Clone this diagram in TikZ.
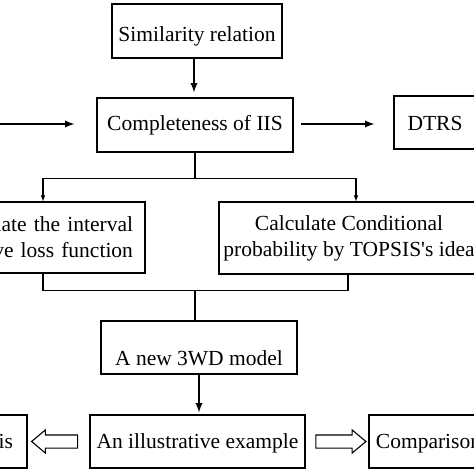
\documentclass[tikz,border=0pt]{standalone}
\usepackage{fontspec}
\setmainfont{Liberation Serif}
\usetikzlibrary{shapes.arrows, arrows, positioning}

\tikzstyle{block} = [rectangle, draw=black, line width=1.2pt, inner sep=0pt, minimum height=54pt, text centered, font=\fontsize{21.5}{25.8}\selectfont]
\tikzstyle{oneline} = [block, text height=14.7pt, text depth=4.7pt]
\tikzstyle{arrow} = [line width=2.2pt, ->, >=latex]
\tikzstyle{thinarrow} = [line width=1.1pt, ->, >=latex]
\tikzstyle{line} = [line width=1.1pt]
\tikzstyle{hollow} = [single arrow, draw=black, line width=1.1pt, fill=white, inner sep=6pt, single arrow head extend=5pt, single arrow tip angle=80]

\begin{document}
\begin{tikzpicture}[x=1pt, y=-1pt]
	\useasboundingbox (0,0) rectangle (474,474);

	\node (sim) [oneline, minimum width=170pt, text height=26pt] at (197,31) {Similarity relation};
	\node (comp) [oneline, minimum width=196pt, below of=sim, node distance=94pt, xshift=-2pt] {Completeness of IIS};
	\node (dtrs) [oneline, minimum width=82pt, minimum height=53pt, text height=21pt, right of=comp, node distance=240pt, yshift=2.5pt] {DTRS};
	\node (calc-loss) [block, minimum height=71pt, align=right, text width=252pt, inner xsep=12pt, below of=comp, node distance=112.5pt, xshift=-188pt] {late the interval\\ve loss function};
	\node (calc-prob) [block, minimum width=260pt, minimum height=72pt, align=center, below of=comp, node distance=113pt, xshift=154pt] {Calculate Conditional\\probability by TOPSIS\textquotesingle s idea};
	\node (model) [oneline, minimum width=196pt, minimum height=53pt, text height=39.7pt, below of=comp, node distance=222.5pt, xshift=4pt] {A new 3WD model};
	\node (example) [oneline, minimum width=215pt, minimum height=53pt, text height=18.3pt, below of=model, node distance=94pt, xshift=-1.5pt] {An illustrative example};
	\node (sens) [oneline, minimum width=150pt, minimum height=53pt, text height=18.3pt, align=right, text width=122pt, left of=example, node distance=245.5pt] {is};
	\node (compare) [oneline, minimum width=119pt, minimum height=53pt, text height=18.3pt, right of=example, node distance=231pt] {Comparison};

	\coordinate (feed) at (-20,124);

	\draw[arrow, shorten >=5pt] ([xshift=-3pt]sim.south) -- ([xshift=-1pt]comp.north);
	\draw[arrow, shorten >=22pt] (feed) -- (feed -| comp.west);
	\draw[arrow, shorten <=7pt, shorten >=19pt] ([yshift=1pt]comp.east) -- ([yshift=1pt]comp.east -| dtrs.west);

	\draw[line] (comp.south) -- ++(0,26) coordinate (split);
	\draw[thinarrow] (split) -| ([xshift=36pt]calc-loss.north);
	\draw[thinarrow] (split) -| ([xshift=7pt]calc-prob.north);
	\draw[line] ([xshift=36pt]calc-loss.south) -- ++(0,17) coordinate (merge) -| ([xshift=-1pt]calc-prob.south);
	\draw[line] (split |- merge) -- (split |- model.north);

	\draw[arrow, shorten >=2pt] (model.south) -- (model.south |- example.north);
	\path (example.west) -- (sens.east) node[hollow, midway, minimum height=46pt, shape border rotate=180] {};
	\path (example.east) -- (compare.west) node[hollow, midway, minimum height=50pt] {};
\end{tikzpicture}
\end{document}
